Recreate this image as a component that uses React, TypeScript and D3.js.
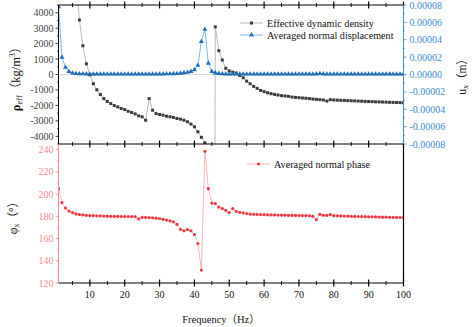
import React from 'react';
import * as d3 from 'd3';

// Sampled frequencies (Hz)
const frequency = [
  1, 2, 3, 4, 5, 6, 7, 8, 9, 10, 11, 12, 13, 14, 15, 16, 17, 18, 19, 20,
  21, 22, 23, 24, 25, 26, 27, 28, 29, 30, 31, 32, 33, 34, 35, 36, 37, 38, 39, 40,
  41, 42, 43, 44, 45, 46, 47, 48, 49, 50, 51, 52, 53, 54, 55, 56, 57, 58, 59, 60,
  61, 62, 63, 64, 65, 66, 67, 68, 69, 70, 71, 72, 73, 74, 75, 76, 77, 78, 79, 80,
  81, 82, 83, 84, 85, 86, 87, 88, 89, 90, 91, 92, 93, 94, 95, 96, 97, 98, 99, 100,
];

// Effective dynamic density (kg/m^3)
const density = [
  90000, 40000, 20000, 12000, 8500, 6200, 3530, 1860, 690, -20,
  -600, -990, -1300, -1560, -1740, -1880, -2010, -2100, -2200, -2270,
  -2380, -2460, -2550, -2680, -2740, -2960, -1560, -2310, -2530, -2590,
  -2635, -2700, -2740, -2780, -2850, -2890, -2960, -3060, -3210, -3390,
  -3710, -4070, -4420, -9000, -75000, 3085, 1540, 940, 400, 230,
  150, 100, -60, -210, -430, -600, -770, -900, -1030, -1110,
  -1180, -1240, -1290, -1330, -1370, -1390, -1410, -1460, -1480, -1500,
  -1520, -1540, -1560, -1590, -1610, -1630, -1650, -1720, -1630, -1650,
  -1660, -1670, -1680, -1690, -1700, -1710, -1720, -1730, -1740, -1750,
  -1760, -1770, -1775, -1780, -1790, -1800, -1805, -1810, -1820, -1830,
];

// Averaged normal displacement (m)
const displacement = [
  7.8e-5, 1.98e-5, 8.3e-6, 3.4e-6, 1.6e-6, 1.0e-6, 8e-7, 7e-7, 6e-7, 5e-7,
  5e-7, 5e-7, 5e-7, 5e-7, 5e-7, 5e-7, 5e-7, 5e-7, 5e-7, 5e-7,
  5e-7, 5e-7, 5e-7, 5e-7, 5e-7, 5e-7, 5e-7, 5e-7, 5e-7, 5e-7,
  6e-7, 7e-7, 8e-7, 9e-7, 1.0e-6, 1.5e-6, 2.0e-6, 2.5e-6, 3.5e-6, 5.5e-6,
  1.05e-5, 3.8e-5, 5.2e-5, 1.3e-5, 3.5e-6, 1.8e-6, 1.2e-6, 8e-7, 6e-7, 5e-7,
  5e-7, 5e-7, 5e-7, 5e-7, 5e-7, 5e-7, 5e-7, 5e-7, 5e-7, 5e-7,
  5e-7, 5e-7, 5e-7, 5e-7, 5e-7, 5e-7, 5e-7, 5e-7, 5e-7, 5e-7,
  5e-7, 5e-7, 5e-7, 5e-7, 6e-7, 1.0e-6, 6e-7, 5e-7, 5e-7, 5e-7,
  5e-7, 5e-7, 5e-7, 5e-7, 5e-7, 5e-7, 5e-7, 5e-7, 5e-7, 5e-7,
  5e-7, 5e-7, 5e-7, 5e-7, 5e-7, 5e-7, 5e-7, 5e-7, 5e-7, 5e-7,
];

// Averaged normal phase (degrees)
const phase = [
  204.8, 192.3, 187.4, 184.7, 183.3, 182.1, 181.5, 181.2, 180.9, 180.6,
  180.5, 180.4, 180.3, 180.2, 180.1, 180.0, 180.0, 179.9, 179.8, 179.8,
  179.7, 179.7, 179.6, 177.6, 179.1, 179.0, 178.8, 178.6, 178.3, 178.0,
  177.3, 176.6, 175.8, 174.9, 172.8, 168.3, 166.9, 168.1, 166.9, 163.6,
  155.5, 131.6, 238.5, 204.8, 191.9, 191.4, 188.3, 186.9, 185.4, 183.3,
  186.9, 184.5, 183.6, 183.0, 182.4, 182.0, 181.8, 181.7, 181.5, 181.4,
  181.3, 181.2, 181.2, 181.1, 181.0, 181.0, 180.9, 180.8, 180.8, 180.7,
  180.6, 180.6, 180.4, 180.0, 177.0, 181.8, 180.9, 180.8, 181.5, 180.5,
  180.4, 180.3, 180.2, 180.1, 180.0, 179.9, 179.8, 179.7, 179.6, 179.5,
  179.5, 179.4, 179.3, 179.2, 179.2, 179.1, 179.0, 179.0, 178.9, 178.9,
];

const xTickLabels = [10, 20, 30, 40, 50, 60, 70, 80, 90, 100];
const xMinorTicks = [5, 15, 25, 35, 45, 55, 65, 75, 85, 95];
const densityTicks = [-4000, -3000, -2000, -1000, 0, 1000, 2000, 3000, 4000];
const densityMinor = [-4500, -3500, -2500, -1500, -500, 500, 1500, 2500, 3500, 4500];
const dispTicks = [-0.00008, -0.00006, -0.00004, -0.00002, 0, 0.00002, 0.00004, 0.00006, 0.00008];
const dispMinor = [-0.00007, -0.00005, -0.00003, -0.00001, 0.00001, 0.00003, 0.00005, 0.00007];
const phaseTicks = [120, 140, 160, 180, 200, 220, 240];
const phaseMinor = [130, 150, 170, 190, 210, 230];

const SERIF = '"Liberation Serif", "Times New Roman", "Noto Sans CJK SC", serif';
const BLUE = '#3a8dd0';
const PINK = '#f28b90';
const BLACK_M = '#3b3b3b';
const BLUE_M = '#1f6fb8';
const RED_M = '#ef3a45';

const L = 58.5;
const R = 403.5;
const TOP1 = 5;
const MID = 144;
const BOT = 283;

export default function App() {
  const x = d3.scaleLinear().domain([1, 100]).range([L, R]);
  const yD = d3.scaleLinear().domain([-4500, 4500]).range([MID, TOP1]);
  const yU = d3.scaleLinear().domain([-0.00008, 0.00008]).range([MID, TOP1]);
  const yP = d3.scaleLinear().domain([120, 245]).range([BOT, MID]);

  const densityRows = frequency.map((f, i) => ({ f, v: density[i] }));
  const dispRows = frequency.map((f, i) => ({ f, v: displacement[i] }));
  const phaseRows = frequency.map((f, i) => ({ f, v: phase[i] }));

  const lineD = d3.line<{ f: number; v: number }>().x(d => x(d.f)).y(d => yD(d.v));
  const lineU = d3.line<{ f: number; v: number }>().x(d => x(d.f)).y(d => yU(d.v));
  const lineP = d3.line<{ f: number; v: number }>().x(d => x(d.f)).y(d => yP(d.v));
  const tri = d3.symbol().type(d3.symbolTriangle).size(11)()!;

  const fmtDisp = (v: number) => (v < 0 ? '-' : '') + Math.abs(v).toFixed(5);

  const xTicksAt = (y: number, key: string) => (
    <g key={key}>
      {xTickLabels.map(t => (
        <line key={'M' + t} x1={x(t)} x2={x(t)} y1={y - 3.5} y2={y + 3.5} stroke="#000" strokeWidth={1.2} />
      ))}
      {xMinorTicks.map(t => (
        <line key={'m' + t} x1={x(t)} x2={x(t)} y1={y - 2} y2={y + 2} stroke="#000" strokeWidth={0.9} />
      ))}
    </g>
  );

  return (
    <svg width={474} height={327} style={{ position: 'absolute', left: 0, top: 0, background: '#fff' }} fontFamily={SERIF}>
      <defs>
        <clipPath id="clipTop"><rect x={L} y={TOP1} width={R - L} height={MID - TOP1} /></clipPath>
        <clipPath id="clipBot"><rect x={L} y={MID} width={R - L} height={BOT - MID} /></clipPath>
      </defs>

      {/* upper panel: density and displacement */}
      <line x1={L} x2={R} y1={yD(0)} y2={yD(0)} stroke="#cfcfcf" strokeWidth={0.8} />
      <g clipPath="url(#clipTop)">
        <path d={lineD(densityRows)!} fill="none" stroke="#a8a8a8" strokeWidth={0.8} />
        {densityRows.map(d => (
          <rect key={d.f} x={x(d.f) - 1.5} y={yD(d.v) - 1.5} width={3} height={3} fill={BLACK_M} />
        ))}
        <path d={lineU(dispRows)!} fill="none" stroke="#5aa4dc" strokeWidth={0.8} />
        {dispRows.map(d => (
          <path key={d.f} d={tri} transform={`translate(${x(d.f)},${yU(d.v)})`} fill={BLUE_M} />
        ))}
      </g>

      {/* lower panel: phase */}
      <g clipPath="url(#clipBot)">
        <path d={lineP(phaseRows)!} fill="none" stroke="#f6a3a8" strokeWidth={0.8} />
        {phaseRows.map(d => (
          <circle key={d.f} cx={x(d.f)} cy={yP(d.v)} r={1.6} fill={RED_M} />
        ))}
      </g>

      {/* frames */}
      <line x1={L} x2={R} y1={TOP1} y2={TOP1} stroke="#000" strokeWidth={1.2} />
      <line x1={L} x2={R} y1={MID} y2={MID} stroke="#000" strokeWidth={1.2} />
      <line x1={L} x2={R} y1={BOT} y2={BOT} stroke="#000" strokeWidth={1.2} />
      <line x1={R} x2={R} y1={MID} y2={BOT} stroke="#000" strokeWidth={1.2} />
      {xTicksAt(TOP1, 'top')}
      {xTicksAt(MID, 'mid')}
      {xTicksAt(BOT, 'bot')}

      {/* left density axis */}
      <line x1={L} x2={L} y1={TOP1} y2={MID} stroke="#000" strokeWidth={1} />
      {densityTicks.map(t => (
        <g key={t}>
          <line x1={L - 3} x2={L} y1={yD(t)} y2={yD(t)} stroke="#000" strokeWidth={0.8} />
          <text x={L - 5} y={yD(t)} dy="0.35em" textAnchor="end" fontSize={10} fill="#444">{String(t)}</text>
        </g>
      ))}
      {densityMinor.map(t => (
        <line key={t} x1={L - 1.5} x2={L} y1={yD(t)} y2={yD(t)} stroke="#000" strokeWidth={0.7} />
      ))}

      {/* right displacement axis */}
      <line x1={R} x2={R} y1={TOP1} y2={MID} stroke={BLUE} strokeWidth={1} />
      {dispTicks.map(t => (
        <g key={t}>
          <line x1={R} x2={R + 3} y1={yU(t)} y2={yU(t)} stroke={BLUE} strokeWidth={0.8} />
          <text x={R + 6} y={yU(t)} dy="0.35em" textAnchor="start" fontSize={10} fill={BLUE}>{fmtDisp(t)}</text>
        </g>
      ))}
      {dispMinor.map(t => (
        <line key={t} x1={R} x2={R + 1.5} y1={yU(t)} y2={yU(t)} stroke={BLUE} strokeWidth={0.7} />
      ))}

      {/* left phase axis */}
      <line x1={L} x2={L} y1={MID} y2={BOT} stroke={PINK} strokeWidth={1} />
      {phaseTicks.map(t => (
        <g key={t}>
          <line x1={L - 3} x2={L} y1={yP(t)} y2={yP(t)} stroke={PINK} strokeWidth={0.8} />
          <text x={L - 5} y={yP(t)} dy="0.35em" textAnchor="end" fontSize={10} fill={PINK}>{String(t)}</text>
        </g>
      ))}
      {phaseMinor.map(t => (
        <line key={t} x1={L - 1.5} x2={L} y1={yP(t)} y2={yP(t)} stroke={PINK} strokeWidth={0.7} />
      ))}

      {/* x tick labels */}
      {xTickLabels.map(t => (
        <text key={t} x={x(t)} y={298} textAnchor="middle" fontSize={10} fill="#111">{String(t)}</text>
      ))}
      <text x={221} y={323} textAnchor="middle" fontSize={10.5} fill="#111">Frequency（Hz）</text>

      {/* axis titles */}
      <text transform="translate(19.5,76) rotate(-90)" textAnchor="middle" fontSize={12.5} fill="#111">
        <tspan fontWeight="bold">ρ</tspan>
        <tspan fontSize={8.5} dy={2}>eff</tspan>
        <tspan dy={-2}>（kg/m</tspan>
        <tspan fontSize={7.5} dy={-4.5}>3</tspan>
        <tspan dy={4.5}>）</tspan>
      </text>
      <text transform="translate(17,215) rotate(-90)" textAnchor="middle" fontSize={11.5} fill="#111">
        <tspan>φ</tspan>
        <tspan fontSize={8} dy={2}>x</tspan>
        <tspan dy={-2}>（°）</tspan>
      </text>
      <text transform="translate(465.5,74) rotate(-90)" textAnchor="middle" fontSize={11.5} fill="#111">
        <tspan>u</tspan>
        <tspan fontSize={8} dy={2}>x</tspan>
        <tspan dy={-2}>（m）</tspan>
      </text>

      {/* legends */}
      <line x1={240} x2={263} y1={23} y2={23} stroke="#a8a8a8" strokeWidth={0.8} />
      <rect x={251.5 - 1.5} y={21.5} width={3} height={3} fill={BLACK_M} />
      <text x={267} y={23} dy="0.35em" fontSize={10.2} fill="#111">Effective dynamic density</text>
      <line x1={240} x2={263} y1={35} y2={35} stroke="#5aa4dc" strokeWidth={0.8} />
      <path d={tri} transform="translate(251.5,35)" fill={BLUE_M} />
      <text x={267} y={35} dy="0.35em" fontSize={10.2} fill="#111">Averaged normal displacement</text>

      <line x1={247} x2={270} y1={164} y2={164} stroke="#f6a3a8" strokeWidth={0.8} />
      <circle cx={258.5} cy={164} r={1.6} fill={RED_M} />
      <text x={274} y={164} dy="0.35em" fontSize={10.2} fill="#111">Averaged normal phase</text>
    </svg>
  );
}
